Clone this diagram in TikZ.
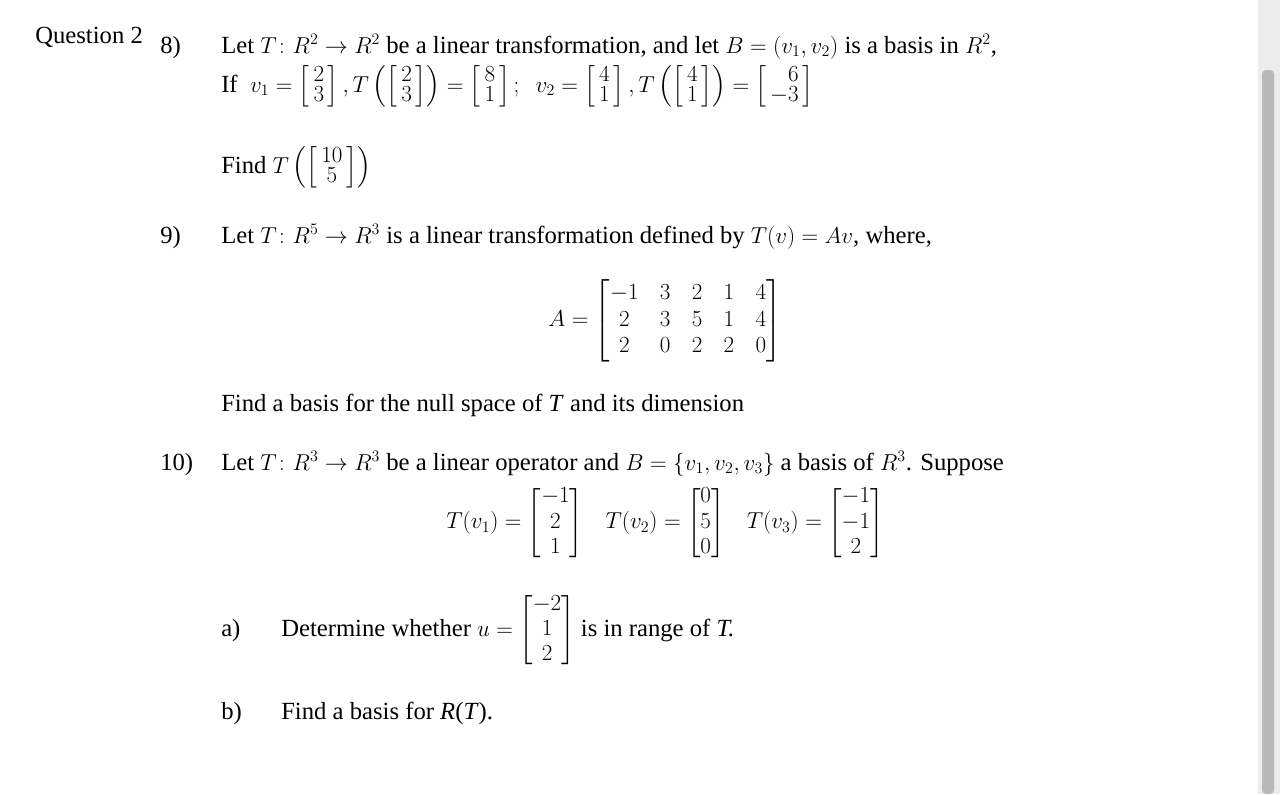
\documentclass[tikz,border=0pt]{standalone}
\usepackage{amsmath}
\usepackage{fontspec}
\setmainfont{Liberation Serif}
\newcommand{\sm}[1]{\left[\renewcommand{\arraystretch}{0.62}\begin{array}{@{\,}c@{\,}}#1\end{array}\right]}
\tikzset{txt/.style={anchor=base west,inner sep=0pt,font=\fontsize{18.5}{21}\selectfont},
 mat/.style={anchor=center,inner sep=0pt,font=\fontsize{18.5}{21}\selectfont}}
\begin{document}
\begin{tikzpicture}[x=0.75pt,y=-0.75pt]
\useasboundingbox (0,0) rectangle (1280,794);
\fill[white] (0,0) rectangle (1280,794);
\fill[gray!15] (1258,0) rectangle (1280,794);
\fill[gray!55,rounded corners=3pt] (1262,70) rectangle (1274,794);
\node[txt] (q) at (35,43) {Question 2};
\node[txt] (n8) at (160,53) {8)};
\node[txt] (l8) at (221,53) {Let $T\colon R^2 \to R^2$ be a linear transformation, and let $B=(v_1,v_2)$ is a basis in $R^2$,};
\node[txt] (l8b) at (221,92) {If\ \ $v_1=\sm{2\\3},T\left(\sm{2\\3}\right)=\sm{8\\1};\ \ v_2=\sm{4\\1},T\left(\sm{4\\1}\right)=\sm{\phantom{-}6\\-3}$};
\node[txt] (l8c) at (221,173) {Find $T\left(\sm{10\\5}\right)$};
\node[txt] (n9) at (160,243) {9)};
\node[txt] (l9) at (221,243) {Let $T\colon R^5 \to R^3$ is a linear transformation defined by $T(v)=Av$, where,};
\node[mat] (A) at (665,321) {\setlength{\arraycolsep}{8pt}\renewcommand{\arraystretch}{0.95}$A=\begin{bmatrix}-1&3&2&1&4\\2&3&5&1&4\\2&0&2&2&0\end{bmatrix}$};
\node[txt] (l9b) at (221,411) {Find a basis for the null space of \textit{T} and its dimension};
\node[txt] (n10) at (160,470) {10)};
\node[txt] (l10) at (221,470) {Let $T\colon R^3 \to R^3$ be a linear operator and $B=\{v_1,v_2,v_3\}$ a basis of $R^3$. Suppose};
\node[mat] (tv) at (665,523) {\renewcommand{\arraystretch}{0.9}$T(v_1)=\begin{bmatrix}-1\\2\\1\end{bmatrix}\ \ \ T(v_2)=\begin{bmatrix}0\\5\\0\end{bmatrix}\ \ \ T(v_3)=\begin{bmatrix}-1\\-1\\2\end{bmatrix}$};
\node[txt] (na) at (221,636) {a)};
\node[txt] (la) at (281,636) {Determine whether {\renewcommand{\arraystretch}{0.9}$u=\begin{bmatrix}-2\\1\\2\end{bmatrix}$} is in range of \textit{T.}};
\node[txt] (nb) at (221,719) {b)};
\node[txt] (lb) at (281,719) {Find a basis for \textit{R}(\textit{T}).};
\end{tikzpicture}
\end{document}
